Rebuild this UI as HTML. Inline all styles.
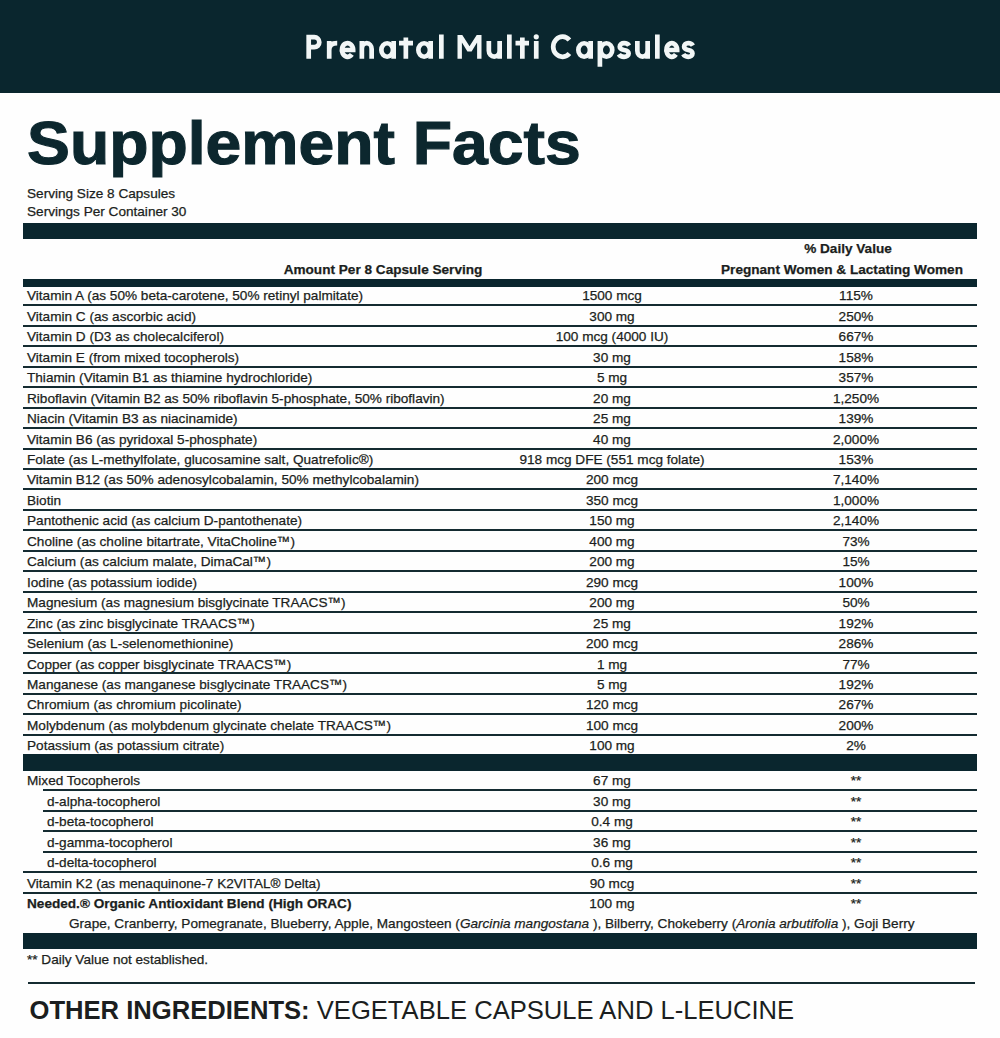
<!DOCTYPE html>
<html><head><meta charset="utf-8"><title>Supplement Facts</title>
<style>
html,body{margin:0;padding:0;background:#fefefe;}
body{width:1000px;height:1038px;position:relative;overflow:hidden;font-family:"Liberation Sans",sans-serif;color:#1b1e20;}
.a{position:absolute;white-space:nowrap;line-height:1;}
.bar{position:absolute;background:#0a262e;}
.ln{position:absolute;background:#142b31;height:2px;}
.t{font-size:13.6px;-webkit-text-stroke:0.25px #1b1e20;}
.c{transform:translateX(-50%);}
.b{font-weight:bold;}
</style></head><body>

<div class="bar" style="left:0;top:0;width:1000px;height:93px;"></div>
<svg style="position:absolute;left:0;top:0;" width="1000" height="93" viewBox="0 0 1000 93"><g fill="none" stroke="#f2f6f6" stroke-width="4.70"><path d="M308.7,58.75 V37.2 H314.3 A5.0,5.0 0 0 1 314.3,47.2 H308.7"/><path d="M329.2,58.75 V41 M329.2,50 C329.2,45.5 331.5,43.2 337.2,43.2"/><path d="M341.85,50 H353.15 A5.65,6.80 0 1 0 351.83,54.37"/><path d="M361.85,58.75 V41 M361.85,49 A4.90,5.8 0 0 1 371.65,49 V58.75"/><ellipse cx="387.15" cy="50.00" rx="5.80" ry="6.75"/><path d="M393.65,41 V58.75"/><path d="M405.85,37.5 V58.75 M399.00,43.2 H413.00"/><ellipse cx="424.15" cy="50.00" rx="5.80" ry="6.75"/><path d="M430.65,41 V58.75"/><path d="M441.35,34.50 V58.75"/><path d="M488.85,41 V50.75 A5.40,5.8 0 0 0 499.65,50.75 M499.65,41 V58.75"/><path d="M509.35,34.50 V58.75"/><path d="M522.35,37.5 V58.75 M515.50,43.2 H529.00"/><path d="M536.25,41 V58.75"/><path d="M569.41,40.03 A9.30,10.05 0 1 0 569.41,53.47"/><ellipse cx="584.15" cy="50.00" rx="5.80" ry="6.75"/><path d="M590.65,41 V58.75"/><ellipse cx="606.45" cy="50.00" rx="5.80" ry="6.75"/><path d="M599.9,41 V66.75"/><path d="M629.06,45.60 C628.04,43.90 626.20,43.20 624.15,43.20 C621.59,43.20 619.75,44.60 619.75,46.70 C619.75,49.00 622.10,49.60 624.15,50.00 C626.50,50.40 628.65,51.20 628.65,53.40 C628.65,55.50 626.71,56.80 624.05,56.80 C621.69,56.80 619.85,55.90 618.83,54.20"/><path d="M637.35,41 V50.75 A5.15,5.8 0 0 0 647.65,50.75 M647.65,41 V58.75"/><path d="M657.35,34.50 V58.75"/><path d="M666.35,50 H677.15 A5.40,6.80 0 1 0 675.89,54.37"/><path d="M692.87,45.60 C691.90,43.90 690.17,43.20 688.25,43.20 C685.85,43.20 684.12,44.60 684.12,46.70 C684.12,49.00 686.33,49.60 688.25,50.00 C690.46,50.40 692.48,51.20 692.48,53.40 C692.48,55.50 690.65,56.80 688.15,56.80 C685.94,56.80 684.21,55.90 683.25,54.20"/></g><g fill="#f2f6f6"><polygon points="457.5,58.75 457.5,35 462.3,35 469.5,46.2 476.7,35 481.5,35 481.5,58.75 477.1,58.75 477.1,42.6 471.6,51.4 467.4,51.4 461.9,42.6 461.9,58.75"/><circle cx="536.25" cy="36.8" r="2.6"/></g></svg>
<div class="a b" id="sf" style="left:27px;top:112px;font-size:62px;-webkit-text-stroke:1.1px #0c272e;transform:scaleX(1.037);transform-origin:0 0;color:#0c272e;">Supplement Facts</div>
<div class="a t" style="left:27px;top:186.8px;">Serving Size 8 Capsules</div>
<div class="a t" style="left:27px;top:204.8px;">Servings Per Container 30</div>
<div class="bar" style="left:23px;top:223px;width:954px;height:16px;"></div>
<div class="a t b c" style="left:848px;top:241.8px;">% Daily Value</div>
<div class="a t b c" style="left:842px;top:262.5px;">Pregnant Women &amp; Lactating Women</div>
<div class="a t b c" style="left:383px;top:262.5px;">Amount Per 8 Capsule Serving</div>
<div class="bar" style="left:23px;top:279px;width:954px;height:8px;"></div>
<div class="a t" style="left:27px;top:289.4px;">Vitamin A (as 50% beta-carotene, 50% retinyl palmitate)</div>
<div class="a t c" style="left:612px;top:289.4px;">1500 mcg</div>
<div class="a t c" style="left:856px;top:289.4px;">115%</div>
<div class="ln" style="left:23px;top:304px;width:954px;"></div>
<div class="a t" style="left:27px;top:309.8px;">Vitamin C (as ascorbic acid)</div>
<div class="a t c" style="left:612px;top:309.8px;">300 mg</div>
<div class="a t c" style="left:856px;top:309.8px;">250%</div>
<div class="ln" style="left:23px;top:325px;width:954px;"></div>
<div class="a t" style="left:27px;top:330.3px;">Vitamin D (D3 as cholecalciferol)</div>
<div class="a t c" style="left:612px;top:330.3px;">100 mcg (4000 IU)</div>
<div class="a t c" style="left:856px;top:330.3px;">667%</div>
<div class="ln" style="left:23px;top:345px;width:954px;"></div>
<div class="a t" style="left:27px;top:350.7px;">Vitamin E (from mixed tocopherols)</div>
<div class="a t c" style="left:612px;top:350.7px;">30 mg</div>
<div class="a t c" style="left:856px;top:350.7px;">158%</div>
<div class="ln" style="left:23px;top:366px;width:954px;"></div>
<div class="a t" style="left:27px;top:371.2px;">Thiamin (Vitamin B1 as thiamine hydrochloride)</div>
<div class="a t c" style="left:612px;top:371.2px;">5 mg</div>
<div class="a t c" style="left:856px;top:371.2px;">357%</div>
<div class="ln" style="left:23px;top:386px;width:954px;"></div>
<div class="a t" style="left:27px;top:391.6px;">Riboflavin (Vitamin B2 as 50% riboflavin 5-phosphate, 50% riboflavin)</div>
<div class="a t c" style="left:612px;top:391.6px;">20 mg</div>
<div class="a t c" style="left:856px;top:391.6px;">1,250%</div>
<div class="ln" style="left:23px;top:407px;width:954px;"></div>
<div class="a t" style="left:27px;top:412.1px;">Niacin (Vitamin B3 as niacinamide)</div>
<div class="a t c" style="left:612px;top:412.1px;">25 mg</div>
<div class="a t c" style="left:856px;top:412.1px;">139%</div>
<div class="ln" style="left:23px;top:427px;width:954px;"></div>
<div class="a t" style="left:27px;top:432.5px;">Vitamin B6 (as pyridoxal 5-phosphate)</div>
<div class="a t c" style="left:612px;top:432.5px;">40 mg</div>
<div class="a t c" style="left:856px;top:432.5px;">2,000%</div>
<div class="ln" style="left:23px;top:448px;width:954px;"></div>
<div class="a t" style="left:27px;top:453.0px;">Folate (as L-methylfolate, glucosamine salt, Quatrefolic&reg;)</div>
<div class="a t c" style="left:612px;top:453.0px;">918 mcg DFE (551 mcg folate)</div>
<div class="a t c" style="left:856px;top:453.0px;">153%</div>
<div class="ln" style="left:23px;top:468px;width:954px;"></div>
<div class="a t" style="left:27px;top:473.4px;">Vitamin B12 (as 50% adenosylcobalamin, 50% methylcobalamin)</div>
<div class="a t c" style="left:612px;top:473.4px;">200 mcg</div>
<div class="a t c" style="left:856px;top:473.4px;">7,140%</div>
<div class="ln" style="left:23px;top:488px;width:954px;"></div>
<div class="a t" style="left:27px;top:493.9px;">Biotin</div>
<div class="a t c" style="left:612px;top:493.9px;">350 mcg</div>
<div class="a t c" style="left:856px;top:493.9px;">1,000%</div>
<div class="ln" style="left:23px;top:509px;width:954px;"></div>
<div class="a t" style="left:27px;top:514.3px;">Pantothenic acid (as calcium D-pantothenate)</div>
<div class="a t c" style="left:612px;top:514.3px;">150 mg</div>
<div class="a t c" style="left:856px;top:514.3px;">2,140%</div>
<div class="ln" style="left:23px;top:529px;width:954px;"></div>
<div class="a t" style="left:27px;top:534.8px;">Choline (as choline bitartrate, VitaCholine&trade;)</div>
<div class="a t c" style="left:612px;top:534.8px;">400 mg</div>
<div class="a t c" style="left:856px;top:534.8px;">73%</div>
<div class="ln" style="left:23px;top:550px;width:954px;"></div>
<div class="a t" style="left:27px;top:555.2px;">Calcium (as calcium malate, DimaCal&trade;)</div>
<div class="a t c" style="left:612px;top:555.2px;">200 mg</div>
<div class="a t c" style="left:856px;top:555.2px;">15%</div>
<div class="ln" style="left:23px;top:570px;width:954px;"></div>
<div class="a t" style="left:27px;top:575.7px;">Iodine (as potassium iodide)</div>
<div class="a t c" style="left:612px;top:575.7px;">290 mcg</div>
<div class="a t c" style="left:856px;top:575.7px;">100%</div>
<div class="ln" style="left:23px;top:591px;width:954px;"></div>
<div class="a t" style="left:27px;top:596.1px;">Magnesium (as magnesium bisglycinate TRAACS&trade;)</div>
<div class="a t c" style="left:612px;top:596.1px;">200 mg</div>
<div class="a t c" style="left:856px;top:596.1px;">50%</div>
<div class="ln" style="left:23px;top:611px;width:954px;"></div>
<div class="a t" style="left:27px;top:616.6px;">Zinc (as zinc bisglycinate TRAACS&trade;)</div>
<div class="a t c" style="left:612px;top:616.6px;">25 mg</div>
<div class="a t c" style="left:856px;top:616.6px;">192%</div>
<div class="ln" style="left:23px;top:632px;width:954px;"></div>
<div class="a t" style="left:27px;top:637.0px;">Selenium (as L-selenomethionine)</div>
<div class="a t c" style="left:612px;top:637.0px;">200 mcg</div>
<div class="a t c" style="left:856px;top:637.0px;">286%</div>
<div class="ln" style="left:23px;top:652px;width:954px;"></div>
<div class="a t" style="left:27px;top:657.5px;">Copper (as copper bisglycinate TRAACS&trade;)</div>
<div class="a t c" style="left:612px;top:657.5px;">1 mg</div>
<div class="a t c" style="left:856px;top:657.5px;">77%</div>
<div class="ln" style="left:23px;top:672px;width:954px;"></div>
<div class="a t" style="left:27px;top:677.9px;">Manganese (as manganese bisglycinate TRAACS&trade;)</div>
<div class="a t c" style="left:612px;top:677.9px;">5 mg</div>
<div class="a t c" style="left:856px;top:677.9px;">192%</div>
<div class="ln" style="left:23px;top:693px;width:954px;"></div>
<div class="a t" style="left:27px;top:698.4px;">Chromium (as chromium picolinate)</div>
<div class="a t c" style="left:612px;top:698.4px;">120 mcg</div>
<div class="a t c" style="left:856px;top:698.4px;">267%</div>
<div class="ln" style="left:23px;top:713px;width:954px;"></div>
<div class="a t" style="left:27px;top:718.8px;">Molybdenum (as molybdenum glycinate chelate TRAACS&trade;)</div>
<div class="a t c" style="left:612px;top:718.8px;">100 mcg</div>
<div class="a t c" style="left:856px;top:718.8px;">200%</div>
<div class="ln" style="left:23px;top:734px;width:954px;"></div>
<div class="a t" style="left:27px;top:739.3px;">Potassium (as potassium citrate)</div>
<div class="a t c" style="left:612px;top:739.3px;">100 mg</div>
<div class="a t c" style="left:856px;top:739.3px;">2%</div>
<div class="bar" style="left:23px;top:754px;width:954px;height:17px;"></div>
<div class="a t" style="left:27px;top:774.3px;">Mixed Tocopherols</div>
<div class="a t c" style="left:612px;top:774.3px;">67 mg</div>
<div class="a t c" style="left:856px;top:774.3px;">**</div>
<div class="ln" style="left:43px;top:789px;width:934px;"></div>
<div class="a t" style="left:47px;top:794.8px;">d-alpha-tocopherol</div>
<div class="a t c" style="left:612px;top:794.8px;">30 mg</div>
<div class="a t c" style="left:856px;top:794.8px;">**</div>
<div class="ln" style="left:43px;top:810px;width:934px;"></div>
<div class="a t" style="left:47px;top:815.3px;">d-beta-tocopherol</div>
<div class="a t c" style="left:612px;top:815.3px;">0.4 mg</div>
<div class="a t c" style="left:856px;top:815.3px;">**</div>
<div class="ln" style="left:43px;top:830px;width:934px;"></div>
<div class="a t" style="left:47px;top:835.7px;">d-gamma-tocopherol</div>
<div class="a t c" style="left:612px;top:835.7px;">36 mg</div>
<div class="a t c" style="left:856px;top:835.7px;">**</div>
<div class="ln" style="left:43px;top:851px;width:934px;"></div>
<div class="a t" style="left:47px;top:856.2px;">d-delta-tocopherol</div>
<div class="a t c" style="left:612px;top:856.2px;">0.6 mg</div>
<div class="a t c" style="left:856px;top:856.2px;">**</div>
<div class="ln" style="left:23px;top:871px;width:954px;"></div>
<div class="a t" style="left:27px;top:876.7px;">Vitamin K2 (as menaquinone-7 K2VITAL&reg; Delta)</div>
<div class="a t c" style="left:612px;top:876.7px;">90 mcg</div>
<div class="a t c" style="left:856px;top:876.7px;">**</div>
<div class="ln" style="left:23px;top:892px;width:954px;"></div>
<div class="a t b" style="left:27px;top:897.2px;">Needed.&reg; Organic Antioxidant Blend (High ORAC)</div>
<div class="a t c" style="left:612px;top:897.2px;">100 mg</div>
<div class="a t c" style="left:856px;top:897.2px;">**</div>
<div class="a t" style="left:69px;top:917.3px;">Grape, Cranberry, Pomegranate, Blueberry, Apple, Mangosteen (<i>Garcinia mangostana</i> ), Bilberry, Chokeberry (<i>Aronia arbutifolia</i> ), Goji Berry</div>
<div class="bar" style="left:23px;top:933px;width:954px;height:16px;"></div>
<div class="a t" style="left:27px;top:952.7px;">** Daily Value not established.</div>
<div class="ln" style="left:28px;top:982px;width:947px;"></div>
<div class="a" style="left:29.5px;top:997.5px;font-size:25.6px;"><span class="b">OTHER INGREDIENTS:</span> VEGETABLE CAPSULE AND L-LEUCINE</div>
</body></html>
